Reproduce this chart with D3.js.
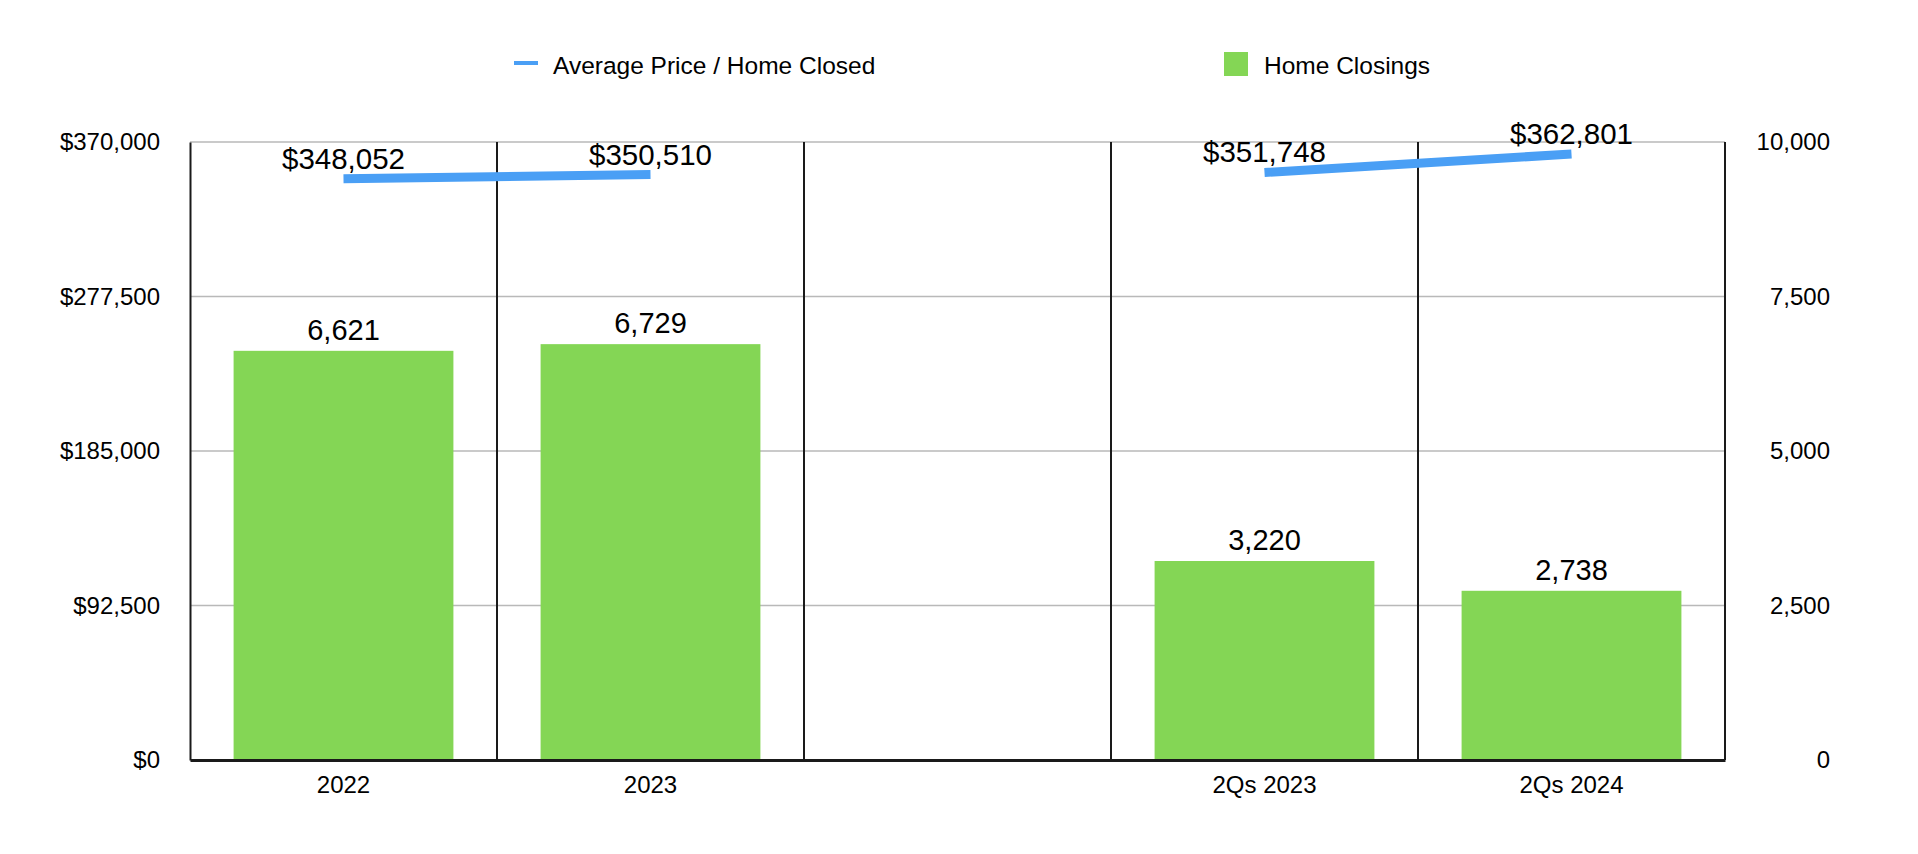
<!DOCTYPE html>
<html>
<head>
<meta charset="utf-8">
<script src="https://cdn.jsdelivr.net/npm/d3@7"></script>
<style>
  html, body { margin: 0; padding: 0; background: #ffffff; }
  svg text { font-family: "Liberation Sans", Arial, Helvetica, sans-serif; fill: #000; }
</style>
</head>
<body>
<svg id="chart" width="1918" height="854"></svg>
<script>
// Chart data
const categories = ["2022", "2023", "", "2Qs 2023", "2Qs 2024"];
const homeClosings = [6621, 6729, null, 3220, 2738];
const avgPrice = [348052, 350510, null, 351748, 362801];
const priceTicks = [0, 92500, 185000, 277500, 370000];
const closingTicks = [0, 2500, 5000, 7500, 10000];

// Layout
const margin = {left: 190, right: 1725, top: 142, bottom: 760};
const colours = {bar: "#84d655", line: "#4a9ff5", grid: "#b9b9b9", axis: "#1a1a1a"};

const svg = d3.select("#chart");

// Scales
const x = d3.scaleBand()
    .domain(d3.range(categories.length))
    .range([margin.left, margin.right])
    .padding(0);
const bw = x.bandwidth();
const yPrice = d3.scaleLinear()
    .domain([0, d3.max(priceTicks)])
    .range([margin.bottom, margin.top]);
const yClose = d3.scaleLinear()
    .domain([0, d3.max(closingTicks)])
    .range([margin.bottom, margin.top]);

// Horizontal gridlines
svg.append("g")
  .selectAll("line")
  .data(priceTicks.slice(1))
  .join("line")
    .attr("x1", margin.left)
    .attr("x2", margin.right)
    .attr("y1", d => yPrice(d))
    .attr("y2", d => yPrice(d))
    .attr("stroke", colours.grid)
    .attr("stroke-width", 1.5);

// Vertical category separators
svg.append("g")
  .selectAll("line")
  .data(d3.range(1, categories.length + 1))
  .join("line")
    .attr("x1", i => i < categories.length ? x(i) : margin.right)
    .attr("x2", i => i < categories.length ? x(i) : margin.right)
    .attr("y1", margin.top)
    .attr("y2", margin.bottom)
    .attr("stroke", colours.axis)
    .attr("stroke-width", 2);

// Bars (right axis)
const barData = homeClosings.map((v, i) => ({i, v})).filter(d => d.v != null);
svg.append("g")
  .selectAll("rect")
  .data(barData)
  .join("rect")
    .attr("x", d => x(d.i) + bw * 0.142)
    .attr("width", bw * 0.716)
    .attr("y", d => yClose(d.v))
    .attr("height", d => yClose(0) - yClose(d.v))
    .attr("fill", colours.bar);

svg.append("g")
  .selectAll("text")
  .data(barData)
  .join("text")
    .attr("x", d => x(d.i) + bw / 2)
    .attr("y", d => yClose(d.v) - 11)
    .attr("text-anchor", "middle")
    .style("font-size", "29px")
    .text(d => d3.format(",")(d.v));

// Line (left axis), broken at the empty category
const line = d3.line()
    .defined(d => d != null)
    .x((d, i) => x(i) + bw / 2)
    .y(d => yPrice(d));
svg.append("path")
    .datum(avgPrice)
    .attr("d", line)
    .attr("fill", "none")
    .attr("stroke", colours.line)
    .attr("stroke-width", 9)
    .attr("stroke-linecap", "butt");

const lineData = avgPrice.map((v, i) => ({i, v})).filter(d => d.v != null);
svg.append("g")
  .selectAll("text")
  .data(lineData)
  .join("text")
    .attr("x", d => x(d.i) + bw / 2)
    .attr("y", d => yPrice(d.v) - 10)
    .attr("text-anchor", "middle")
    .style("font-size", "29.5px")
    .text(d => "$" + d3.format(",")(d.v));

// Left axis
const leftAxis = svg.append("g")
    .attr("transform", `translate(${margin.left},0)`)
    .call(d3.axisLeft(yPrice)
      .tickValues(priceTicks)
      .tickSize(0)
      .tickPadding(30)
      .tickFormat(d => "$" + d3.format(",")(d)));
leftAxis.select(".domain").attr("stroke", colours.axis).attr("stroke-width", 2);
leftAxis.selectAll("text").style("font-size", "24px");

// Right axis
const rightAxis = svg.append("g")
    .attr("transform", `translate(${margin.right},0)`)
    .call(d3.axisRight(yClose)
      .tickValues(closingTicks)
      .tickSize(0)
      .tickFormat(d3.format(",")));
rightAxis.select(".domain").remove();
rightAxis.selectAll("text")
    .attr("x", 105)
    .attr("text-anchor", "end")
    .style("font-size", "24px");

// Bottom axis
const bottomAxis = svg.append("g")
    .attr("transform", `translate(0,${margin.bottom})`)
    .call(d3.axisBottom(x)
      .tickSize(0)
      .tickPadding(16)
      .tickFormat(i => categories[i]));
bottomAxis.select(".domain").attr("stroke", colours.axis).attr("stroke-width", 3);
bottomAxis.selectAll("text").style("font-size", "24px");

// Legend
const legend = svg.append("g");
legend.append("line")
    .attr("x1", 514).attr("x2", 538)
    .attr("y1", 63).attr("y2", 63)
    .attr("stroke", colours.line)
    .attr("stroke-width", 4);
legend.append("text")
    .attr("x", 553).attr("y", 74)
    .style("font-size", "24.5px")
    .text("Average Price / Home Closed");
legend.append("rect")
    .attr("x", 1224).attr("y", 52)
    .attr("width", 24).attr("height", 24)
    .attr("fill", colours.bar);
legend.append("text")
    .attr("x", 1264).attr("y", 74)
    .style("font-size", "24.5px")
    .text("Home Closings");
</script>
</body>
</html>
